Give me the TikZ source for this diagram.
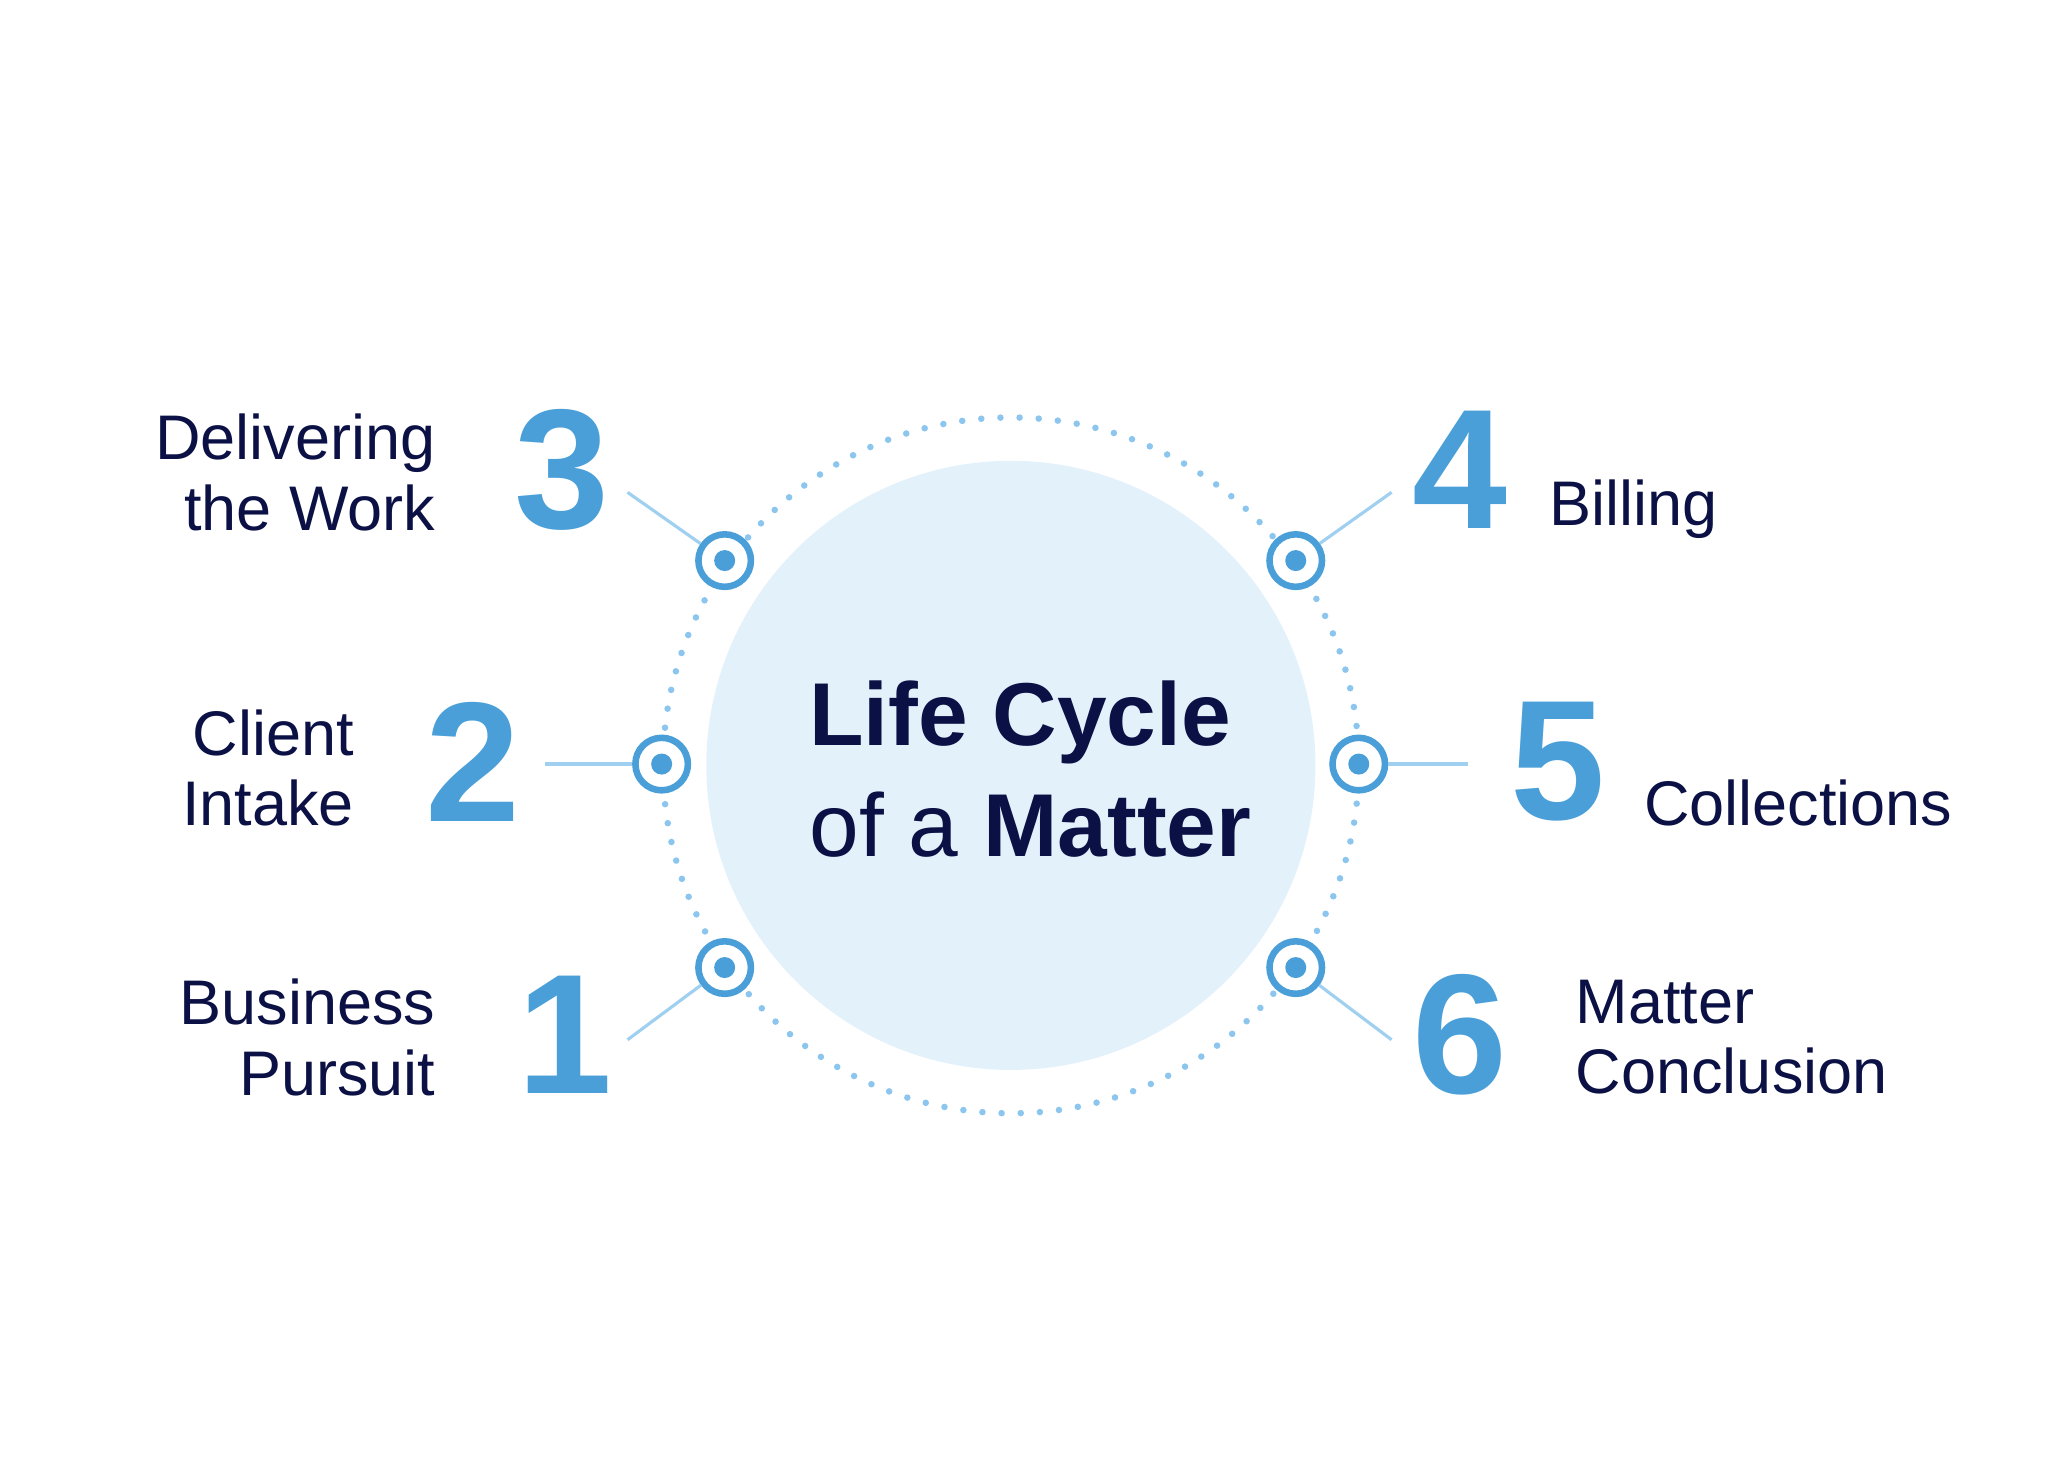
\documentclass[tikz,border=0pt]{standalone}
\usepackage{fontspec}
\setmainfont{Liberation Sans}
\definecolor{navy}{HTML}{0B1045}
\definecolor{blu}{HTML}{4A9FD8}
\definecolor{lite}{HTML}{E3F1FB}
\definecolor{lin}{HTML}{9FD0F0}
\definecolor{dot}{HTML}{8CC6EE}
\begin{document}
\begin{tikzpicture}[x=0.5pt,y=-0.5pt,
 lab/.style={text=navy,font=\fontsize{24}{27}\selectfont,inner sep=0pt},
 num/.style={text=blu,font=\fontsize{65}{65}\selectfont\bfseries,inner sep=0pt},
 mk/.style={circle,draw=blu,line width=2.5pt,fill=white,minimum size=20pt,inner sep=0pt,
   path picture={\fill[blu] (path picture bounding box.center) circle (4pt);}},
 cn/.style={lin,line width=1.2pt}]
\useasboundingbox (0,0) rectangle (1560,1114);
\fill[lite] (770,583) circle (232);
\draw[dot,line width=2.5pt,line cap=round,dash pattern=on 0pt off 7.3pt] (770,583) circle (265);
\node[mk] (m3) at (552,427) {};
\node[mk] (m2) at (504,582) {};
\node[mk] (m1) at (552,737) {};
\node[mk] (m4) at (987,427) {};
\node[mk] (m5) at (1035,582) {};
\node[mk] (m6) at (987,737) {};
\coordinate (c3) at (478,375);
\coordinate (c2) at (415,582);
\coordinate (c1) at (478,792);
\coordinate (c4) at (1060,375);
\coordinate (c5) at (1118,582);
\coordinate (c6) at (1060,792);
\foreach \i in {1,...,6}{\draw[cn] (c\i) -- (m\i);}
\node[num] (n3) at (428,358) {3};
\node[num] (n2) at (360,580) {2};
\node[num] (n1) at (430,788) {1};
\node[num] (n4) at (1112,358) {4};
\node[num] (n5) at (1187,580) {5};
\node[num] (n6) at (1112,788) {6};
\node[lab,anchor=east,align=right] (l3) at (332,360) {Delivering\\the Work};
\node[lab,anchor=east,align=right] (l2) at (270,585) {Client\\Intake};
\node[lab,anchor=east,align=right] (l1) at (332,790) {Business\\Pursuit};
\node[lab,anchor=west] (l4) at (1180,388) {Billing};
\node[lab,anchor=west] (l5) at (1252,612) {Collections};
\node[lab,anchor=west,align=left] (l6) at (1200,790) {Matter\\Conclusion};
\node[text=navy,font=\fontsize{34}{40}\selectfont\bfseries,inner sep=0pt] (t1) at (777,550) {Life Cycle};
\node[text=navy,font=\fontsize{34}{40}\selectfont,inner sep=0pt] (t2) at (785,628) {of a \textbf{Matter}};
\end{tikzpicture}
\end{document}
